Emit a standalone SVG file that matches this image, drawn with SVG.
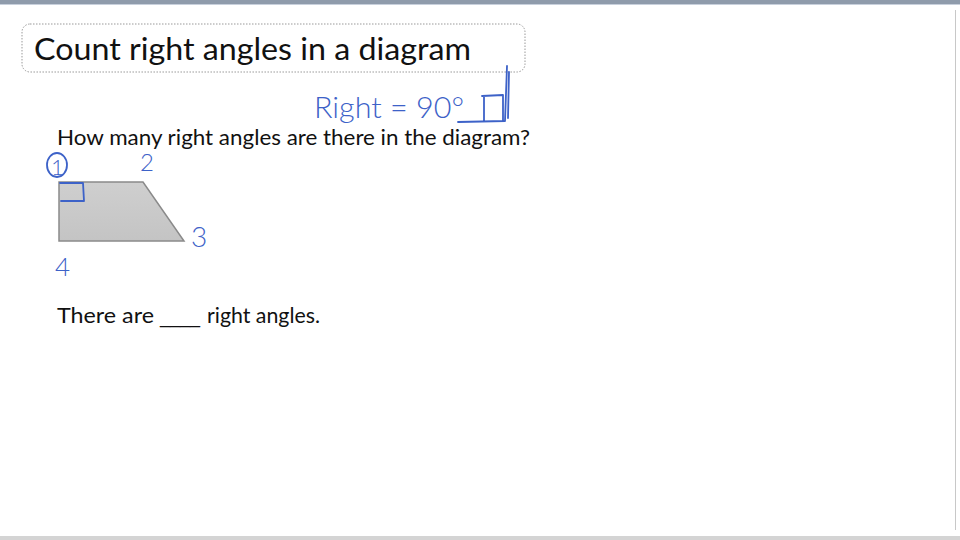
<svg xmlns="http://www.w3.org/2000/svg" width="960" height="540" viewBox="0 0 960 540">
<style>
.t{font-family:Lato,"Liberation Sans",sans-serif;fill:#111}
.u{font-family:"Liberation Sans",sans-serif}
.h{font-family:Lato,"Liberation Sans",sans-serif;fill:#3d62c8;font-weight:300}
.ink{fill:none;stroke:#3d62c8;stroke-width:1.8;stroke-linecap:round;stroke-linejoin:round}
</style>
<defs>
<linearGradient id="g" x1="0" y1="0" x2="0" y2="1">
<stop offset="0" stop-color="#cfcfcf"/>
<stop offset="1" stop-color="#c4c4c4"/>
</linearGradient>
</defs>
<rect width="960" height="540" fill="#ffffff"/>
<rect x="0" y="0" width="960" height="4" fill="#8f9bab"/>
<rect x="0" y="4" width="960" height="1" fill="#c8d0dc"/>
<line x1="955.5" y1="10" x2="955.5" y2="530" stroke="#c8c8c8" stroke-width="1"/>
<rect x="0" y="536" width="960" height="4" fill="#d4d4d4"/>
<rect x="22" y="24" width="503" height="48" rx="8" fill="none" stroke="#999" stroke-width="1" stroke-dasharray="1.5,1.5"/>
<g id="title"><text class="t" x="34" y="60" font-size="30" textLength="437" lengthAdjust="spacingAndGlyphs">Count right angles in a diagram</text></g>
<g id="question"><text class="t" x="57" y="145" font-size="21" textLength="473" lengthAdjust="spacingAndGlyphs">How many right angles are there in the diagram?</text></g>
<g id="answer"><text class="t" x="57" y="323" font-size="21"><tspan textLength="97" lengthAdjust="spacingAndGlyphs">There are</tspan> <tspan class="u" x="160" textLength="40" lengthAdjust="spacingAndGlyphs">____</tspan><tspan x="207" textLength="113" lengthAdjust="spacingAndGlyphs">right angles.</tspan></text></g>
<g id="shape"><polygon points="59,182 143,182 184,241 59,241" fill="url(#g)" stroke="#8a8a8a" stroke-width="1.5"/></g>
<g id="notes">
<text class="h" x="314" y="118" font-size="30" textLength="150" lengthAdjust="spacingAndGlyphs">Right = 90°</text>
<path class="ink" d="M482,96 L503,95 L503,121 M484,96 L484,121 M458,122 L505,121 M507,66 L505,121 M509,72 L508,118"/>
<ellipse class="ink" cx="57" cy="165" rx="10" ry="12"/>
<text class="h" x="51" y="175" font-size="22">1</text>
<text class="h" x="140" y="171" font-size="24">2</text>
<text class="h" x="191" y="247" font-size="28">3</text>
<text class="h" x="55" y="276" font-size="26">4</text>
<path class="ink" d="M60,183 L83,183 L84,201 L61,201"/>
</g>
</svg>
